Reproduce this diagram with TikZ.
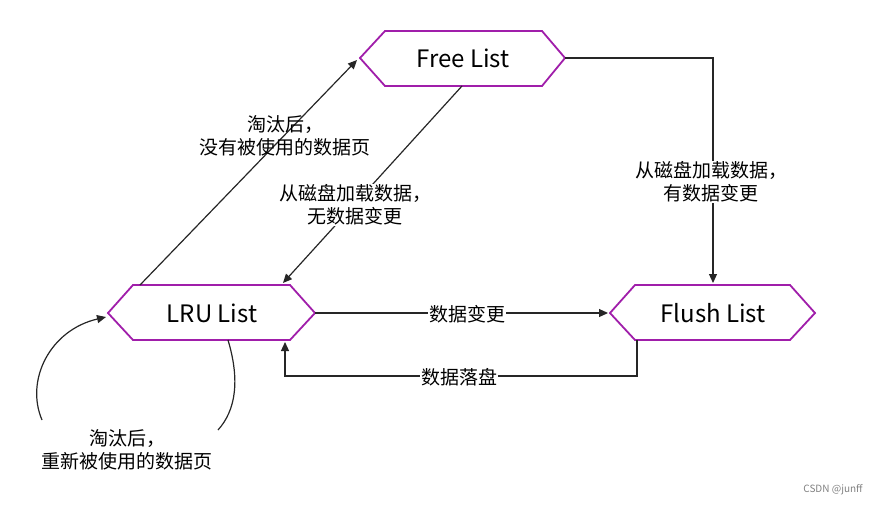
\documentclass[tikz,border=0pt]{standalone}
\usepackage{fontspec}
\setmainfont{Noto Sans CJK SC}
\usetikzlibrary{arrows.meta}
\definecolor{pur}{RGB}{160,30,170}
\begin{document}
\begin{tikzpicture}[x=1pt,y=-1pt,
  hex/.style={draw=pur,line width=1.8pt,fill=white},
  ntext/.style={font=\fontsize{24}{28}\selectfont},
  lbl/.style={font=\fontsize{19}{23}\selectfont,align=center,fill=white,inner sep=1pt},
  arr/.style={draw=black!85,line width=1.2pt,-{Triangle[length=9pt,width=8pt]}}]
\path[use as bounding box] (0,0) rectangle (880,504);
% hexagons
\draw[hex] (360,58)--(385,31)--(542,31)--(565,58)--(542,86)--(385,86)--cycle;
\node[ntext] (free) at (463,58) {Free List};
\draw[hex] (108,313)--(133,285)--(290,285)--(315,313)--(290,340)--(133,340)--cycle;
\node[ntext] (lru) at (212,313) {LRU List};
\draw[hex] (610,313)--(635,285)--(790,285)--(815,313)--(790,340)--(635,340)--cycle;
\node[ntext] (flush) at (713,313) {Flush List};
\coordinate (a1) at (140,285); \coordinate (a2) at (357,60);
\draw[arr] (a1)--(a2);
\node[lbl,fill=none] (l1) at (285,136) {淘汰后，\\没有被使用的数据页};
\coordinate (b1) at (462,86); \coordinate (b2) at (283,283);
\draw[arr] (b1)--(b2);
\node[lbl] (l2) at (355,205) {从磁盘加载数据，\\无数据变更};
\coordinate (c1) at (565,58); \coordinate (c2) at (713,283);
\draw[arr] (c1)-|(c2);
\node[lbl] (l3) at (711,182) {从磁盘加载数据，\\有数据变更};
\coordinate (d1) at (315,313); \coordinate (d2) at (608,313);
\draw[arr] (d1)--(d2);
\node[lbl] (l4) at (467,314) {数据变更};
\coordinate (e1) at (637,340); \coordinate (e2) at (285,342);
\draw[arr] (e1)--(637,376)--(285,376)--(e2);
\node[lbl] (l5) at (459,377) {数据落盘};
\coordinate (f1) at (228,340); \coordinate (f2) at (218,430);
\draw[draw=black!85,line width=1.2pt] (f1) .. controls (240,380) and (236,410) .. (f2);
\coordinate (g1) at (42,420); \coordinate (g2) at (106,317);
\draw[arr] (g1) .. controls (25,380) and (50,330) .. (g2);
\node[lbl,fill=none] (l6) at (127,450) {淘汰后，\\重新被使用的数据页};
\node[font=\fontsize{10}{11}\selectfont,text=gray] (cs) at (833,490) {CSDN @junff};
\end{tikzpicture}
\end{document}
